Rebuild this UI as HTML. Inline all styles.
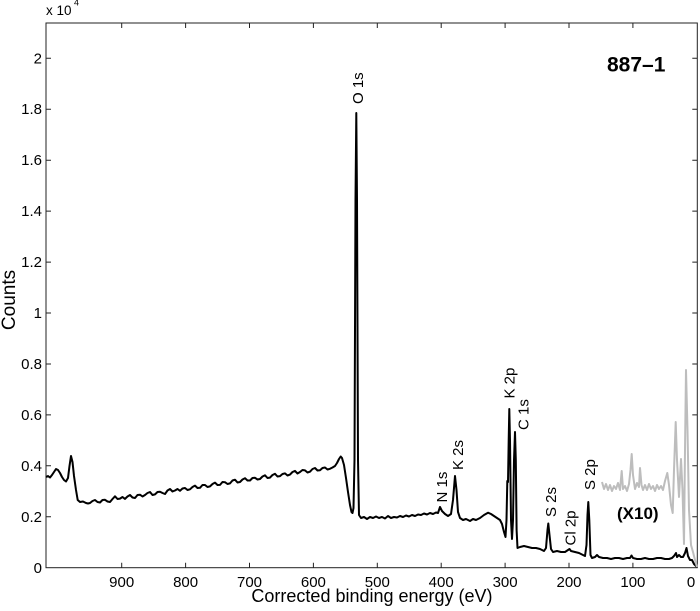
<!DOCTYPE html>
<html>
<head>
<meta charset="utf-8">
<style>
html,body{margin:0;padding:0;background:#fff;}
svg{display:block;}
text{font-family:"Liberation Sans",Arial,sans-serif;fill:#000;}
</style>
</head>
<body>
<svg width="700" height="611" viewBox="0 0 700 611" xmlns="http://www.w3.org/2000/svg">
<rect x="0" y="0" width="700" height="611" fill="#fff"/>

<!-- axes box -->
<rect x="46" y="23" width="651.3" height="544.7" fill="none" stroke="#222" stroke-width="1"/>

<!-- ticks -->
<g stroke="#222" stroke-width="1">
<path d="M46 516.8h5M46 465.8h5M46 414.9h5M46 364h5M46 313h5M46 262.1h5M46 211.1h5M46 160.2h5M46 109.2h5M46 58.3h5"/>
<path d="M697.3 516.8h-5M697.3 465.8h-5M697.3 414.9h-5M697.3 364h-5M697.3 313h-5M697.3 262.1h-5M697.3 211.1h-5M697.3 160.2h-5M697.3 109.2h-5M697.3 58.3h-5"/>
<path d="M121.7 567.7v-5M185.6 567.7v-5M249.5 567.7v-5M313.4 567.7v-5M377.3 567.7v-5M441.2 567.7v-5M505.1 567.7v-5M569 567.7v-5M632.9 567.7v-5"/>
<path d="M121.7 23v5M185.6 23v5M249.5 23v5M313.4 23v5M377.3 23v5M441.2 23v5M505.1 23v5M569 23v5M632.9 23v5"/>
</g>

<!-- y tick labels -->
<g font-size="15" text-anchor="end">
<text x="42" y="573">0</text>
<text x="42" y="522">0.2</text>
<text x="42" y="471">0.4</text>
<text x="42" y="420">0.6</text>
<text x="42" y="369">0.8</text>
<text x="42" y="318">1</text>
<text x="42" y="267">1.2</text>
<text x="42" y="216">1.4</text>
<text x="42" y="165">1.6</text>
<text x="42" y="114">1.8</text>
<text x="42" y="63.5">2</text>
</g>
<text x="46" y="15" font-size="13.5">x 10</text>
<text x="74" y="5.5" font-size="9">4</text>

<!-- x tick labels -->
<g font-size="15" text-anchor="middle">
<text x="121.7" y="587">900</text>
<text x="185.6" y="587">800</text>
<text x="249.5" y="587">700</text>
<text x="313.4" y="587">600</text>
<text x="377.3" y="587">500</text>
<text x="441.2" y="587">400</text>
<text x="505.1" y="587">300</text>
<text x="569" y="587">200</text>
<text x="632.9" y="587">100</text>
<text x="691" y="587">0</text>
</g>

<!-- axis labels -->
<text x="372" y="602" font-size="18" text-anchor="middle">Corrected binding energy (eV)</text>
<text transform="translate(15,300) rotate(-90)" font-size="19" text-anchor="middle">Counts</text>

<!-- title -->
<text x="607" y="71.5" font-size="21" font-weight="bold">887–1</text>

<!-- black spectrum -->
<polyline fill="none" stroke="#000" stroke-width="2" stroke-linejoin="round" points="
46,477 48,476 50,477.5 52,475 54,472 56,469 58,470 60,473 62,477 64,480 66,481.5 68,478 69.5,466 71,456 72.5,462 74,476 76,490 77.7,500 80,502 83,501.5 86,503 88,503.5 90,503
92.5,501 95,500 97.5,502 100,502.5 102.5,500 105,499.8 107.5,501.5 110,502 112.5,499 115,496.3 117.5,499 120,498.6 122.5,497 125,498.9 127.5,496.5 130,495 132.5,497.5 135,498 137.5,495 140,494.7 142.5,496.5 145,495 147.5,493 150,492 152.5,495 155,494.4 157.5,492 160,491.7 162.5,493 165,494 167.5,490.5 170,489 172.5,491.5 175,490.5 177.5,489 180,490.8 182.5,488.5 185,488 187.5,490 190,489.3 192.5,487 195,485.6 197.5,488 200,487.8 202.5,485 205,485 207.5,487 210,486.4 212.5,484 215,482.6 217.5,485 220,484.9 222.5,482 225,482.2 227.5,484 230,483.4 232.5,480.5 235,479.7 237.5,482.5 240,482 242.5,479.5 245,478.2 247.5,480.5 250,480.5 252.5,478 255,477.8 257.5,479.5 260,479 262.5,476.5 265,475.3 267.5,478 270,477.6 272.5,475 275,473.8 277.5,476.5 280,476.1 282.5,474 285,473.4 287.5,475.5 290,474.6 292.5,472 295,470.9 297.5,473.5 300,472 302.5,470 305,470.4 307.5,472.5 310,471.7 312.5,469 315,468 317.5,470.5 320,470.2 322.5,468 325,467.5 327.5,469.5 330,468.8 332.5,467.5 335,466
337,463 339,459 340.7,456.5 342,458 344,465 346,478 348,492 350,505 351.5,512 352.5,513 353.5,508 354.5,460 355.5,200 356.3,113 357,200 358,460 359,515 361,518
364,517 367,519 370,517 373,518 376,516.5 379,518 382,517 385,518.5 388,516 391,518 394,517 397,517.5 400,516 403,517 406,515.5 409,516.5 412,515 415,516 418,514.5 421,515 424,513.5 427,514.5 430,513 433,514 436,512.5 438,513 440,507 442,511 445,514 448,516 451,514 453,500 455,476 456.5,490 458,512 460,518 463,520 466,519 470,521 473,519 476,520 480,518 484,515 488,512.7 491,514 494,516 497,518 500,520 502,524 504,532 505.5,537 506.5,520 507.3,481 508,482 508.7,440 509.3,409 510,440 511,520 512,539 513,520 514,460 515,432 515.8,460 516.6,530 517.5,548 520,547 524,546 528,547 532,548 536,548 540,549 544,551 546,548 547.5,530 548.3,523.5 549.5,535 551,549 553,552 557,551 561,552 565,552 568,550 569.5,549 571,551 575,552 579,553 583,555 585,556 586.5,545 587.5,515 588.3,502 589.3,520 590.5,555 592,558 595,557 597,555 599,557 603,558 607,558 611,559 615,558 619,558 623,559 627,558 630,558 631.5,555.5 633,558 637,559 641,559 645,558 649,559 653,559 657,558 661,558 665,559 669,559 672,558 674,556 676,553 677,557 679,555 681,557 683,557 685,553 686.5,548 688,556 690,560 692,560 694,564 696,566 697,567"/>

<!-- gray (x10) spectrum -->
<polyline fill="none" stroke="#bdbdbd" stroke-width="2" stroke-linejoin="round" points="
602,482 604,489 606,484 608,490 610,485 612,491 614,486 616,489 618,483 620,490 621.7,471 623,489 625,486 627,491 629,484 630.5,470 631.7,454 633,475 635,489 637,483 639,487 640,468 641.5,485 643,490 645,485 647,490 649,484 651,489 653,486 655,491 657,485 659,489 661,486 663,490 665,481 667.3,473 669,485 671,505 672.7,513 674,470 675.7,422 677,460 679,497 681,459 682.5,490 684,544 685,450 686,370 687.5,430 689,510 691,545 693,552 695,560 697,567"/>

<!-- peak labels -->
<g font-size="15">
<text transform="translate(363,104) rotate(-90)">O 1s</text>
<text transform="translate(447,502.5) rotate(-90)">N 1s</text>
<text transform="translate(463,470) rotate(-90)">K 2s</text>
<text transform="translate(514.5,398.5) rotate(-90)">K 2p</text>
<text transform="translate(528.5,430) rotate(-90)">C 1s</text>
<text transform="translate(556,517) rotate(-90)">S 2s</text>
<text transform="translate(575.5,545.5) rotate(-90)">Cl 2p</text>
<text transform="translate(595,490) rotate(-90)">S 2p</text>
</g>
<text x="617" y="519" font-size="17" font-weight="bold">(X10)</text>
</svg>
</body>
</html>
